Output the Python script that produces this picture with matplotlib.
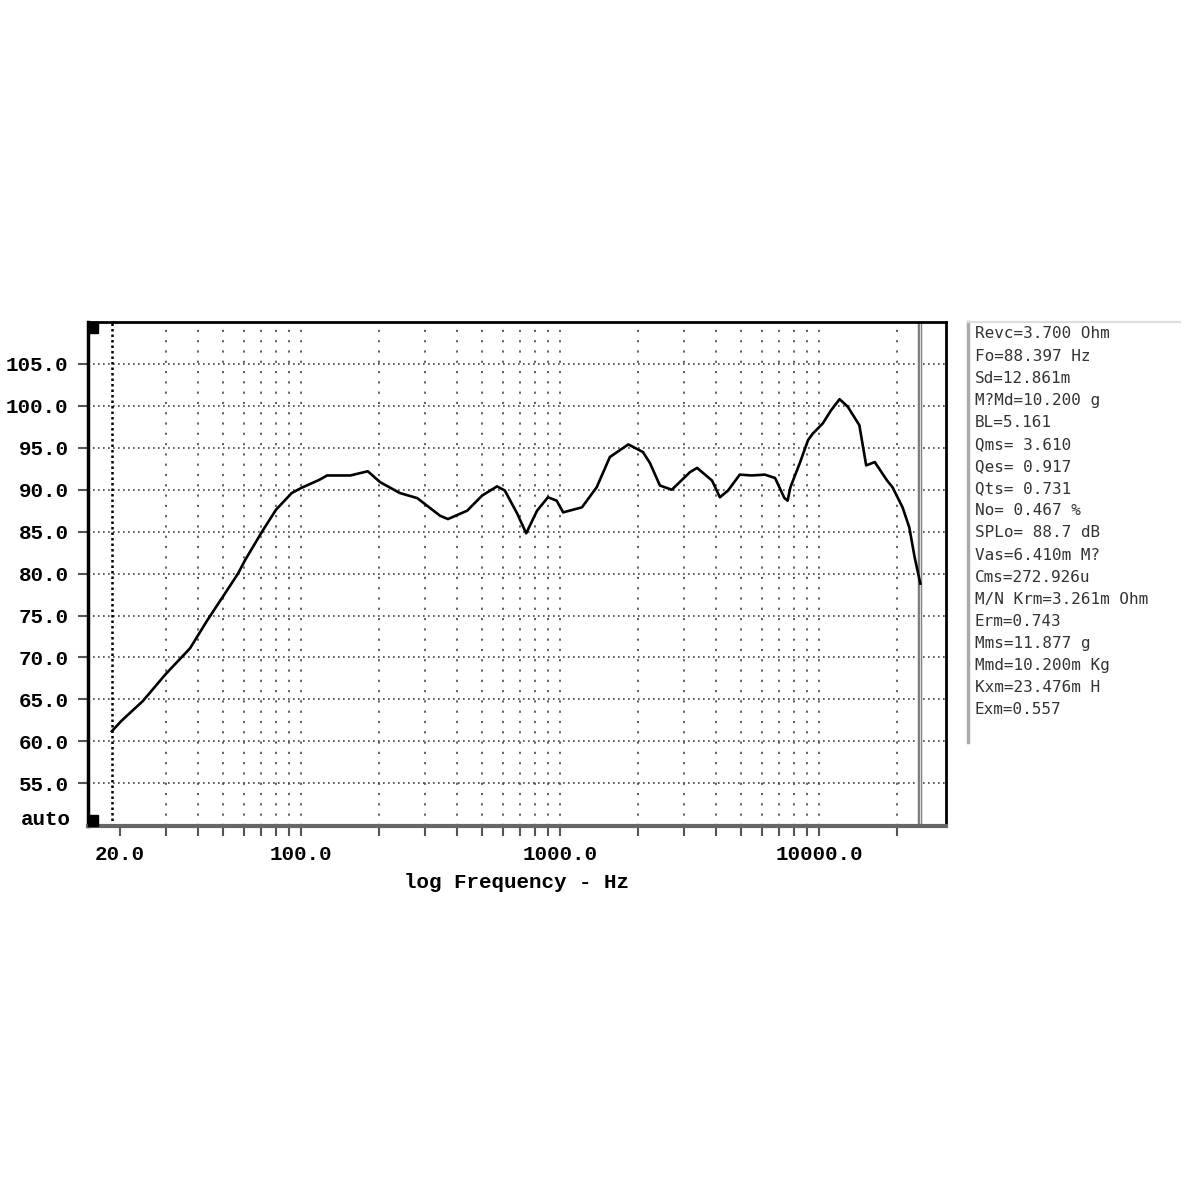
import matplotlib.pyplot as plt
from matplotlib.patches import Rectangle

# ---------------- data ----------------
freq = [18.6, 20.2, 24.5, 30, 37.3, 43.4, 51.8, 57.1, 60.8, 70.7, 80, 92, 100,
        118, 126, 155, 181, 202, 241, 281, 344, 369, 438, 500, 571, 612, 682,
        740, 815, 898, 970, 1028, 1215, 1385, 1557, 1834, 2088, 2222, 2430,
        2700, 3175, 3380, 3860, 4140, 4450, 4940, 5500, 6170, 6760, 7350,
        7560, 7750, 8430, 9060, 9460, 10330, 11140, 12000, 12900, 14300,
        15200, 16400, 18300, 19200, 21000, 22300, 23400, 24600]
spl = [61.2, 62.4, 64.8, 68.0, 71.1, 74.4, 78.0, 80.0, 81.6, 85.0, 87.6, 89.6, 90.2,
       91.2, 91.7, 91.7, 92.2, 90.9, 89.6, 89.0, 86.9, 86.5, 87.5, 89.3, 90.4,
       89.9, 87.2, 84.8, 87.5, 89.1, 88.7, 87.3, 87.9, 90.3, 93.9, 95.4, 94.5,
       93.2, 90.5, 90.0, 92.1, 92.6, 91.1, 89.1, 89.9, 91.8, 91.7, 91.8, 91.4,
       89.0, 88.7, 90.3, 93.2, 95.9, 96.7, 97.9, 99.5, 100.8, 99.9, 97.7,
       92.9, 93.3, 91.1, 90.3, 87.9, 85.5, 81.9, 78.8]

y_ticks = [55, 60, 65, 70, 75, 80, 85, 90, 95, 100, 105]
x_major = [20, 100, 1000, 10000]
x_major_labels = ['20.0', '100.0', '1000.0', '10000.0']
x_minor = [30, 40, 50, 60, 70, 80, 90, 200, 300, 400, 500, 600, 700, 800, 900,
           2000, 3000, 4000, 5000, 6000, 7000, 8000, 9000, 20000]
x_grid = [30, 40, 50, 60, 70, 80, 90, 100, 200, 300, 400, 500, 600, 700,
          800, 900, 1000, 2000, 3000, 4000, 5000, 6000, 7000, 8000, 9000,
          10000, 20000]
marker_lo, marker_hi = 18.6, 24600

params = ['Revc=3.700 Ohm', 'Fo=88.397 Hz', 'Sd=12.861m', 'M?Md=10.200 g',
          'BL=5.161', 'Qms= 3.610', 'Qes= 0.917', 'Qts= 0.731', 'No= 0.467 %',
          'SPLo= 88.7 dB', 'Vas=6.410m M?', 'Cms=272.926u',
          'M/N Krm=3.261m Ohm', 'Erm=0.743', 'Mms=11.877 g',
          'Mmd=10.200m Kg', 'Kxm=23.476m H', 'Exm=0.557']

# ---------------- figure ----------------
fig = plt.figure(figsize=(12, 12), dpi=100)
ax = fig.add_axes([88/1200, 1 - 826/1200, (946-88)/1200, (826-322)/1200])

ax.set_xscale('log')
ax.set_xlim(15.05, 30900)
ax.set_ylim(49.9, 110)

# grid
for f in x_grid:
    ax.axvline(f, color='#555555', lw=1.3, ls=(0, (1.2, 4.5)), zorder=1)
for v in y_ticks:
    ax.axhline(v, color='#444444', lw=1.2, ls=(0, (1, 2)), zorder=1)

# markers
ax.axvline(marker_lo, color='black', lw=1.8, ls=(0, (1, 1.2)), zorder=2)
ax.axvline(marker_hi, color='#777777', lw=3.2, zorder=2)
ax.axvline(marker_hi, color='#dddddd', lw=0.9, zorder=2)

# response curve
ax.plot(freq, spl, color='black', lw=1.9, zorder=3)

# axes cosmetics
ax.set_yticks(y_ticks)
ax.set_yticklabels([f'{v:.1f}' for v in y_ticks])
ax.set_xticks(x_major)
ax.set_xticklabels(x_major_labels)
ax.set_xticks(x_minor, minor=True)
ax.set_xticklabels([], minor=True)

tick_font = {'family': 'Liberation Mono', 'weight': 'bold', 'size': 15}
for lab in ax.get_yticklabels() + ax.get_xticklabels():
    lab.set_fontproperties(tick_font)
ax.tick_params(axis='y', direction='out', length=7, width=1.5, color='#555555', pad=7)
ax.tick_params(axis='x', which='both', direction='out', length=7, width=1.5,
               color='#555555', pad=7)

ax.set_xlabel('log Frequency - Hz', fontdict=tick_font, labelpad=6)
ax.text(-0.02, 50.7, 'auto', transform=ax.get_yaxis_transform(),
        ha='right', va='center', fontdict=tick_font)

ax.spines['left'].set_linewidth(2.5)
ax.spines['top'].set_linewidth(2)
ax.spines['right'].set_linewidth(2)
ax.spines['bottom'].set_linewidth(3)
ax.spines['bottom'].set_color('#666666')

# corner squares
for yb in (322, 815):
    fig.patches.append(Rectangle((88/1200, 1 - (yb + 11)/1200), 10/1200, 11/1200,
                                 transform=fig.transFigure, color='black', zorder=5))

# parameter panel
fig.add_artist(plt.Line2D([968/1200, 968/1200], [1 - 322/1200, 1 - 742/1200],
                          color='#aaaaaa', lw=2.5))
fig.add_artist(plt.Line2D([968/1200, 1180/1200], [1 - 322/1200, 1 - 322/1200],
                          color='#dddddd', lw=1.5))
for i, s in enumerate(params):
    fig.text(975/1200, 1 - (334 + i*22.1)/1200, s, ha='left', va='center',
             family='DejaVu Sans Mono', fontsize=11.5, color='#333333')

plt.savefig('out.png', dpi=100, facecolor='white')
plt.close()
